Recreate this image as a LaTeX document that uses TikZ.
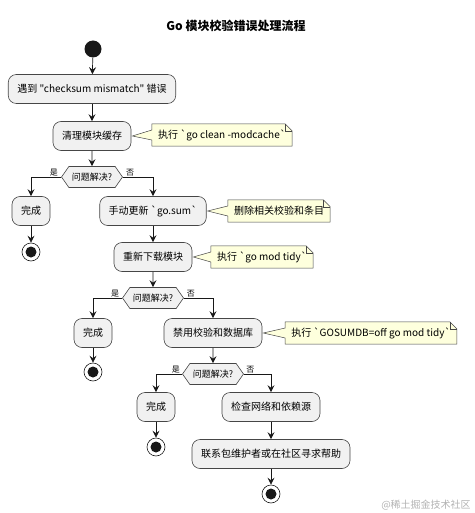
\documentclass[tikz,border=0pt]{standalone}
\usepackage{fontspec}
\newfontfamily\cjk{Noto Sans CJK SC}
\usetikzlibrary{shapes.symbols,arrows.meta,backgrounds}
\definecolor{actfill}{HTML}{F1F1F1}
\definecolor{notefill}{HTML}{FEFFDD}
\definecolor{linecol}{HTML}{181818}
\tikzset{
  act/.style={draw=linecol!80, fill=actfill, rounded corners=8pt, line width=0.6pt,
    minimum height=29pt, inner xsep=9pt, font=\cjk\fontsize{10}{12}\selectfont},
  decide/.style={draw=linecol!80, fill=actfill, shape=signal, signal to=west and east,
    signal pointer angle=110, line width=0.6pt, minimum height=21pt, inner xsep=3pt,
    font=\cjk\fontsize{9}{11}\selectfont},
  notetext/.style={minimum height=22pt, inner xsep=6pt, font=\cjk\fontsize{10}{12}\selectfont},
  startdot/.style={circle, fill=linecol, minimum size=17pt, inner sep=0pt},
  enddot/.style={circle, draw=linecol, line width=0.6pt, fill=white, minimum size=18pt, inner sep=0pt,
    path picture={\fill[linecol] (path picture bounding box.center) circle (5.5pt);}},
  flow/.style={-{Stealth[length=7pt,width=7pt,inset=2.5pt]}, line width=0.7pt, draw=linecol},
  branch/.style={font=\cjk\fontsize{8}{10}\selectfont, inner sep=1pt}
}
% note outline with folded corner and pointer to the activity
\newcommand{\notebox}[2]{%
  \begin{pgfonlayer}{background}
  \draw[draw=linecol!80, fill=notefill, line width=0.5pt]
    (#1.north west) -- ([xshift=-7pt]#1.north east) -- ([yshift=-7pt]#1.north east)
    -- (#1.south east) -- (#1.south west) -- ([yshift=-5pt]#1.west)
    -- ([xshift=1pt]#2.east) -- ([yshift=5pt]#1.west) -- cycle;
  \draw[draw=linecol!80, line width=0.5pt] ([xshift=-7pt]#1.north east) |- ([yshift=-7pt]#1.north east);
  \end{pgfonlayer}}
\begin{document}
\begin{tikzpicture}[x=1pt,y=1pt]
  \useasboundingbox (0,0) rectangle (474,-513);
  \node[font=\cjk\bfseries\fontsize{12}{14}\selectfont] (title) at (236,-26) {Go 模块校验错误处理流程};

  \node[startdot] (start) at (93,-49) {};
  \node[act] (mismatch) at (92,-89) {遇到 "checksum mismatch" 错误};
  \node[act] (clean) at (92,-136) {清理模块缓存};
  \node[notetext] (nclean) at (222,-135) {执行 `go clean -modcache`};
  \node[decide] (ok1) at (92,-177) {问题解决?};
  \node[act] (done1) at (31,-211) {完成};
  \node[enddot] (end1) at (31,-252) {};
  \node[act] (gosum) at (153,-211) {手动更新 `go.sum`};
  \node[notetext] (ngosum) at (279,-211) {删除相关校验和条目};
  \node[act] (redl) at (153,-257) {重新下载模块};
  \node[notetext] (nredl) at (262,-257) {执行 `go mod tidy`};
  \node[decide] (ok2) at (153,-298) {问题解决?};
  \node[act] (done2) at (93,-333) {完成};
  \node[enddot] (end2) at (93,-372) {};
  \node[act] (sumdb) at (213,-333) {禁用校验和数据库};
  \node[notetext] (nsumdb) at (371,-333) {执行 `GOSUMDB=off go mod tidy`};
  \node[decide] (ok3) at (213,-374) {问题解决?};
  \node[act] (done3) at (156,-407) {完成};
  \node[enddot] (end3) at (156,-447) {};
  \node[act] (network) at (271,-407) {检查网络和依赖源};
  \node[act] (help) at (271,-454) {联系包维护者或在社区寻求帮助};
  \node[enddot] (end4) at (271,-494) {};
  \node[font=\cjk\fontsize{10}{12}\selectfont, text=black!30] (mark) at (426,-505) {@稀土掘金技术社区};

  \notebox{nclean}{clean}
  \notebox{ngosum}{gosum}
  \notebox{nredl}{redl}
  \notebox{nsumdb}{sumdb}

  \draw[flow] (start) -- (mismatch);
  \draw[flow] (mismatch) -- (clean);
  \draw[flow] (clean) -- (ok1);
  \draw[flow] (ok1.west) -| node[branch, pos=0.12, above] {是} (done1);
  \draw[flow] (ok1.east) -| node[branch, pos=0.12, above] {否} (gosum);
  \draw[flow] (done1) -- (end1);
  \draw[flow] (gosum) -- (redl);
  \draw[flow] (redl) -- (ok2);
  \draw[flow] (ok2.west) -| node[branch, pos=0.12, above] {是} (done2);
  \draw[flow] (ok2.east) -| node[branch, pos=0.12, above] {否} (sumdb);
  \draw[flow] (done2) -- (end2);
  \draw[flow] (sumdb) -- (ok3);
  \draw[flow] (ok3.west) -| node[branch, pos=0.12, above] {是} (done3);
  \draw[flow] (ok3.east) -| node[branch, pos=0.12, above] {否} (network);
  \draw[flow] (done3) -- (end3);
  \draw[flow] (network) -- (help);
  \draw[flow] (help) -- (end4);
\end{tikzpicture}
\end{document}
